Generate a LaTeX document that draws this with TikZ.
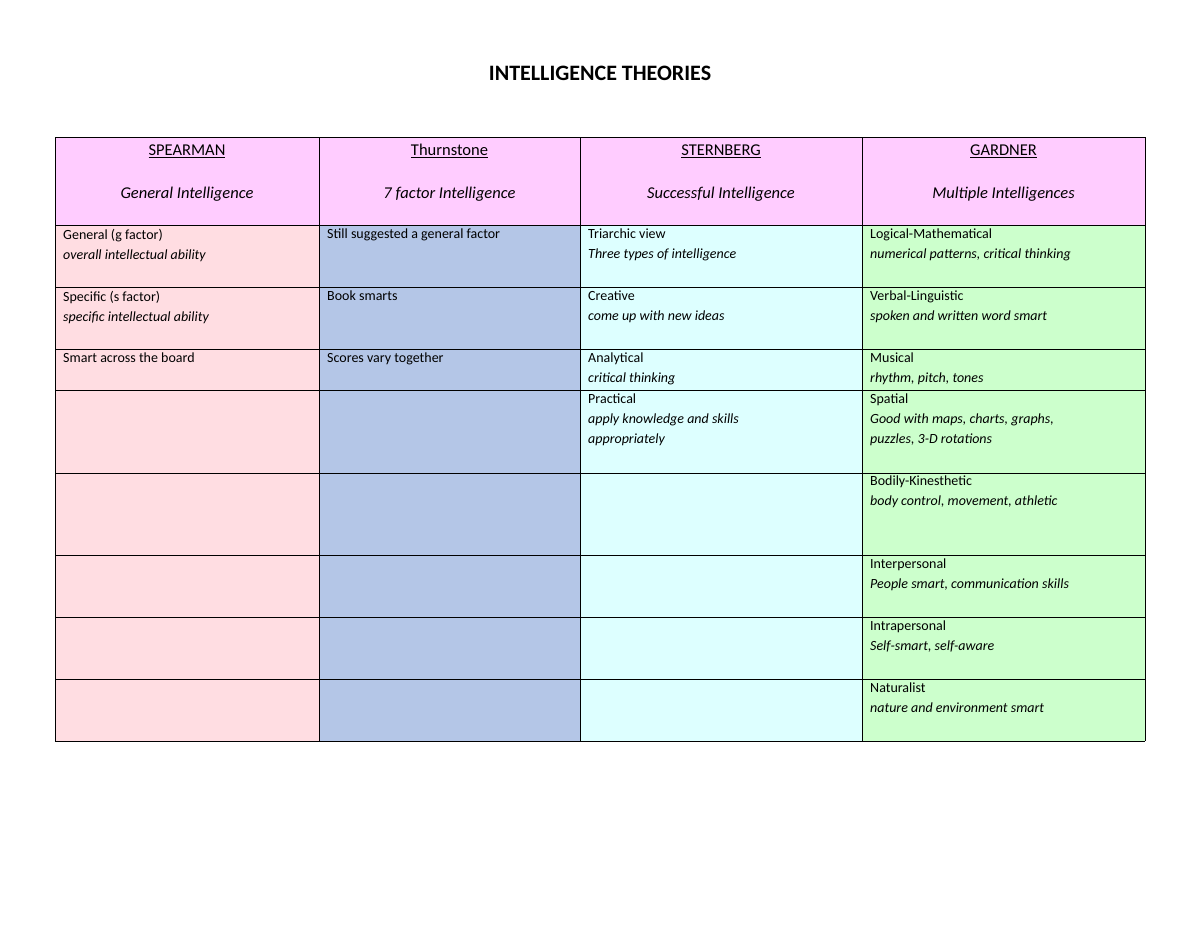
\documentclass[tikz,border=0pt]{standalone}
\usepackage{fontspec}
\setmainfont{Carlito}
\definecolor{hdr}{HTML}{FFCCFF}
\definecolor{cA}{HTML}{FFDDE2}
\definecolor{cB}{HTML}{B4C6E7}
\definecolor{cC}{HTML}{DDFFFF}
\definecolor{cD}{HTML}{CCFFCC}
\tikzset{cell/.style={anchor=north west,align=left,inner sep=0pt,font=\fontsize{14}{20}\selectfont},
hd/.style={anchor=center,align=center,inner sep=0pt,font=\fontsize{16.5}{20}\selectfont}}
\begin{document}
\begin{tikzpicture}[x=1pt,y=-1pt]
\useasboundingbox (0,0) rectangle (1200,927);
\node[font=\bfseries\fontsize{22}{26}\selectfont] (title) at (600,73) {INTELLIGENCE THEORIES};
% fills
\fill[hdr] (55,137) rectangle (1145,225);
\fill[cA] (55,225) rectangle (319,741);
\fill[cB] (319,225) rectangle (580,741);
\fill[cC] (580,225) rectangle (862,741);
\fill[cD] (862,225) rectangle (1145,741);
% grid
\foreach \y in {137,225,287,349,390,473,555,617,679,741} \draw[line width=0.8pt] (55,\y) -- (1145,\y);
\foreach \x in {55,319,580,862,1145} \draw[line width=0.8pt] (\x,137) -- (\x,741);
% headers
\node[hd] (h1) at (187,151) {\underline{SPEARMAN}};
\node[hd] (h1b) at (187,194) {\itshape General Intelligence};
\node[hd] (h2) at (449.5,151) {\underline{Thurnstone}};
\node[hd] (h2b) at (449.5,194) {\itshape 7 factor Intelligence};
\node[hd] (h3) at (721,151) {\underline{STERNBERG}};
\node[hd] (h3b) at (721,194) {\itshape Successful Intelligence};
\node[hd] (h4) at (1003.5,151) {\underline{GARDNER}};
\node[hd] (h4b) at (1003.5,194) {\itshape Multiple Intelligences};
% col A
\node[cell] (a1) at (63,229) {General (g factor)\\\itshape overall intellectual ability};
\node[cell] (a2) at (63,291) {Specific (s factor)\\\itshape specific intellectual ability};
\node[cell] (a3) at (63,353) {Smart across the board};
% col B
\node[cell] (b1) at (327,229) {Still suggested a general factor};
\node[cell] (b2) at (327,291) {Book smarts};
\node[cell] (b3) at (327,353) {Scores vary together};
% col C
\node[cell] (c1) at (588,229) {Triarchic view\\\itshape Three types of intelligence};
\node[cell] (c2) at (588,291) {Creative\\\itshape come up with new ideas};
\node[cell] (c3) at (588,353) {Analytical\\\itshape critical thinking};
\node[cell] (c4) at (588,394) {Practical\\\itshape apply knowledge and skills\\\itshape appropriately};
% col D
\node[cell] (d1) at (870,229) {Logical-Mathematical\\\itshape numerical patterns, critical thinking};
\node[cell] (d2) at (870,291) {Verbal-Linguistic\\\itshape spoken and written word smart};
\node[cell] (d3) at (870,353) {Musical\\\itshape rhythm, pitch, tones};
\node[cell] (d4) at (870,394) {Spatial\\\itshape Good with maps, charts, graphs,\\\itshape puzzles, 3-D rotations};
\node[cell] (d5) at (870,476) {Bodily-Kinesthetic\\\itshape body control, movement, athletic};
\node[cell] (d6) at (870,559) {Interpersonal\\\itshape People smart, communication skills};
\node[cell] (d7) at (870,621) {Intrapersonal\\\itshape Self-smart, self-aware};
\node[cell] (d8) at (870,683) {Naturalist\\\itshape nature and environment smart};
\end{tikzpicture}
\end{document}
